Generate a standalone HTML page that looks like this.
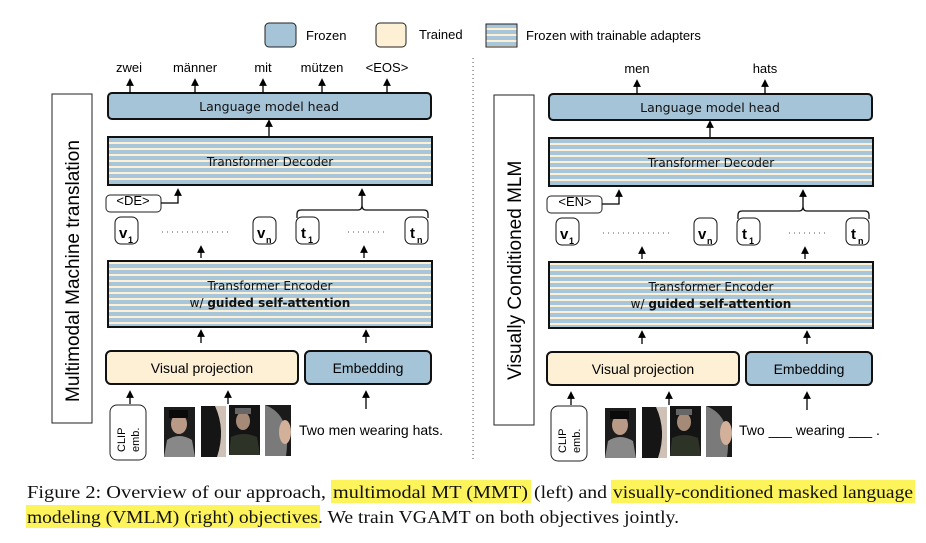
<!DOCTYPE html>
<html><head><meta charset="utf-8"><style>
body{margin:0;background:#fff}
svg{display:block}
</style></head><body>
<svg width="926" height="543" viewBox="0 0 926 543" xmlns="http://www.w3.org/2000/svg" font-family="'Liberation Sans',sans-serif">
<defs>
<pattern id="st" width="10" height="6" patternUnits="userSpaceOnUse">
<rect width="10" height="6" fill="#a8c6da"/><rect y="4" width="10" height="2" fill="#fdf0d5"/>
</pattern>
<marker id="ar" markerWidth="6" markerHeight="6" refX="3" refY="3" orient="auto"><path d="M0,0 L6,3 L0,6 z" fill="#000"/></marker>
<g id="panel">
<rect x="108" y="93" width="323" height="26" rx="4" fill="#a6c4d8" stroke="#111" stroke-width="2"/>
<text x="269" y="111" font-size="12.5" text-anchor="middle" font-family="'DejaVu Sans',sans-serif" fill="#111">Language model head</text>
<line x1="269" y1="136" x2="269" y2="123" stroke="#000" stroke-width="1.3" marker-end="url(#ar)"/>
<rect x="108" y="137" width="324" height="48" fill="url(#st)" stroke="#111" stroke-width="2"/>
<text x="270" y="166" font-size="12" text-anchor="middle" font-family="'DejaVu Sans',sans-serif" fill="#111">Transformer Decoder</text>
<rect x="106" y="195" width="55" height="17" rx="4" fill="#fff" stroke="#222"/>
<polyline points="161,203 178,203 178,192" fill="none" stroke="#000" stroke-width="1.3" marker-end="url(#ar)"/>
<path d="M297,218 v-4 q0,-4 4,-4 h57 q4,0 4,-5 q0,5 4,5 h58 q4,0 4,4 v4" fill="none" stroke="#111" stroke-width="1.3"/>
<line x1="362" y1="205" x2="362" y2="192" stroke="#000" stroke-width="1.3" marker-end="url(#ar)"/>
<rect x="115" y="217" width="23" height="27" rx="6" fill="#fff" stroke="#111"/>
<rect x="253" y="217" width="23" height="27" rx="6" fill="#fff" stroke="#111"/>
<rect x="296" y="217" width="23" height="27" rx="6" fill="#fff" stroke="#111"/>
<rect x="405" y="217" width="23" height="27" rx="6" fill="#fff" stroke="#111"/>
<text font-size="15" font-weight="bold"><tspan x="119" y="238">v</tspan><tspan x="257" y="238">v</tspan><tspan x="301" y="238">t</tspan><tspan x="410" y="238">t</tspan></text>
<text font-size="9" font-weight="bold"><tspan x="128" y="243">1</tspan><tspan x="266" y="243">n</tspan><tspan x="308" y="243">1</tspan><tspan x="417" y="243">n</tspan></text>
<line x1="162" y1="232" x2="230" y2="232" stroke="#555" stroke-dasharray="1,4"/>
<line x1="348" y1="232" x2="386" y2="232" stroke="#555" stroke-dasharray="1,4"/>
<line x1="201" y1="258" x2="201" y2="249" stroke="#000" stroke-width="1.3" marker-end="url(#ar)"/>
<line x1="364" y1="258" x2="364" y2="249" stroke="#000" stroke-width="1.3" marker-end="url(#ar)"/>
<rect x="108" y="261" width="324" height="66" fill="url(#st)" stroke="#111" stroke-width="2"/>
<text x="270" y="290" font-size="12" text-anchor="middle" font-family="'DejaVu Sans',sans-serif" fill="#111">Transformer Encoder</text>
<text x="270" y="307" font-size="12" text-anchor="middle" font-family="'DejaVu Sans',sans-serif" fill="#111">w/ <tspan font-weight="bold">guided self-attention</tspan></text>
<line x1="201" y1="343" x2="201" y2="333" stroke="#000" stroke-width="1.3" marker-end="url(#ar)"/>
<line x1="366" y1="343" x2="366" y2="333" stroke="#000" stroke-width="1.3" marker-end="url(#ar)"/>
<rect x="106" y="351" width="192" height="33" rx="5" fill="#fdf0d5" stroke="#111" stroke-width="2"/>
<text x="202" y="373" font-size="14" text-anchor="middle">Visual projection</text>
<rect x="305" y="351" width="126" height="33" rx="5" fill="#a6c4d8" stroke="#111" stroke-width="2"/>
<text x="368" y="373" font-size="14" text-anchor="middle">Embedding</text>
<line x1="130" y1="404" x2="130" y2="394" stroke="#000" stroke-width="1.3" marker-end="url(#ar)"/>
<line x1="228" y1="404" x2="228" y2="394" stroke="#000" stroke-width="1.3" marker-end="url(#ar)"/>
<line x1="366" y1="409" x2="366" y2="394" stroke="#000" stroke-width="1.3" marker-end="url(#ar)"/>
<rect x="110" y="405" width="36" height="55" rx="7" fill="#fff" stroke="#222"/>
<text transform="translate(125,452) rotate(-90)" font-size="11">CLIP</text>
<text transform="translate(139,452) rotate(-90)" font-size="11">emb.</text>
<rect x="164" y="407" width="31" height="50" fill="#1c1c1c"/><ellipse cx="179" cy="424" rx="8" ry="10" fill="#b89a86"/><rect x="169" y="410" width="19" height="8" fill="#0a0a0a"/><path d="M164,457 L167,440 Q179,432 192,440 L195,457 z" fill="#888"/>
<rect x="201" y="406" width="25" height="51" fill="#151515"/><path d="M215,406 Q226,430 217,457 L226,457 L226,406 z" fill="#cfc1b5"/>
<rect x="229" y="405" width="31" height="50" fill="#141414"/><ellipse cx="243" cy="421" rx="7" ry="9" fill="#a58a78"/><rect x="235" y="408" width="16" height="6" fill="#666"/><path d="M229,455 L231,437 Q243,431 257,437 L260,455 z" fill="#2e3328"/>
<rect x="265" y="405" width="26" height="51" fill="#1a1a1a"/><path d="M265,405 Q292,415 286,456 L265,456 z" fill="#7a7a7a"/><ellipse cx="285" cy="432" rx="6" ry="12" fill="#d2b09a"/>
</g>
</defs>

<!-- legend -->
<rect x="265" y="23" width="31" height="24" rx="4" fill="#a6c4d8" stroke="#222"/>
<text x="306" y="40" font-size="13">Frozen</text>
<rect x="376" y="23" width="30" height="24" rx="4" fill="#fdf0d5" stroke="#222"/>
<text x="419" y="39" font-size="13">Trained</text>
<rect x="486" y="24" width="31" height="23" fill="url(#st)" stroke="#222"/>
<text x="526" y="40" font-size="13">Frozen with trainable adapters</text>

<line x1="473" y1="58" x2="473" y2="460" stroke="#555" stroke-dasharray="1,3"/>

<!-- left panel -->
<use href="#panel"/>
<rect x="52" y="94" width="40" height="329" fill="#fff" stroke="#222"/>
<text transform="translate(79,402) rotate(-90)" font-size="19">Multimodal Machine translation</text>
<text x="133" y="205" font-size="13" text-anchor="middle">&lt;DE&gt;</text>
<text font-size="13" text-anchor="middle"><tspan x="129" y="72">zwei</tspan><tspan x="195" y="72">männer</tspan><tspan x="263" y="72">mit</tspan><tspan x="322" y="72">mützen</tspan><tspan x="387" y="72">&lt;EOS&gt;</tspan></text>
<g stroke="#000" stroke-width="1.3"><line x1="130" y1="93" x2="130" y2="82" marker-end="url(#ar)"/><line x1="195" y1="93" x2="195" y2="82" marker-end="url(#ar)"/><line x1="263" y1="93" x2="263" y2="82" marker-end="url(#ar)"/><line x1="322" y1="93" x2="322" y2="82" marker-end="url(#ar)"/><line x1="387" y1="93" x2="387" y2="82" marker-end="url(#ar)"/></g>
<text x="299" y="435" font-size="14">Two men wearing hats.</text>

<!-- right panel -->
<g transform="translate(441,1)"><use href="#panel"/></g>
<rect x="494" y="95" width="40" height="330" fill="#fff" stroke="#222"/>
<text transform="translate(521,380) rotate(-90)" font-size="19">Visually Conditioned MLM</text>
<text x="575" y="206" font-size="13" text-anchor="middle">&lt;EN&gt;</text>
<text font-size="13" text-anchor="middle"><tspan x="637" y="73">men</tspan><tspan x="765" y="73">hats</tspan></text>
<g stroke="#000" stroke-width="1.3"><line x1="637" y1="94" x2="637" y2="83" marker-end="url(#ar)"/><line x1="765" y1="94" x2="765" y2="83" marker-end="url(#ar)"/></g>
<text x="739" y="435" font-size="14">Two ___ wearing ___ .</text>

<!-- caption -->
<rect x="331" y="480" width="200" height="23" fill="#fdf35a"/>
<rect x="611" y="480" width="304" height="23" fill="#fdf35a"/>
<rect x="26" y="505" width="294" height="23" fill="#fdf35a"/>
<g font-family="'Liberation Serif',serif" font-size="18" fill="#111" lengthAdjust="spacingAndGlyphs">
<text x="27" y="498" textLength="299" lengthAdjust="spacingAndGlyphs">Figure 2: Overview of our approach,</text>
<text x="333" y="498" textLength="195" lengthAdjust="spacingAndGlyphs">multimodal MT (MMT)</text>
<text x="534" y="498" textLength="73" lengthAdjust="spacingAndGlyphs">(left) and</text>
<text x="613" y="498" textLength="300" lengthAdjust="spacingAndGlyphs">visually-conditioned masked language</text>
<text x="27" y="523" textLength="291" lengthAdjust="spacingAndGlyphs">modeling (VMLM) (right) objectives</text>
<text x="318" y="523" textLength="361" lengthAdjust="spacingAndGlyphs">. We train VGAMT on both objectives jointly.</text>
</g>
</svg>
</body></html>
